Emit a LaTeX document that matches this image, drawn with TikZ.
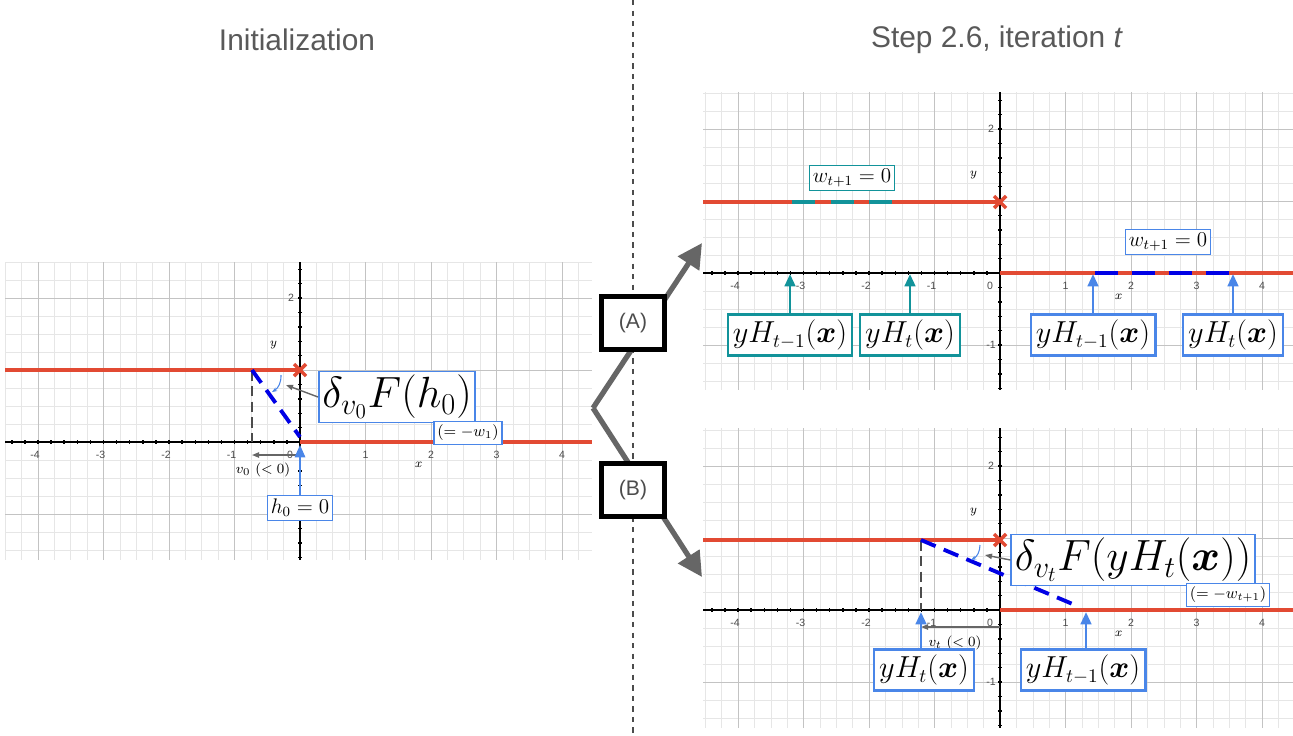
\documentclass[tikz,border=0pt]{standalone}
\usepackage{amsmath}
\usepackage{bm}
\usepackage{fontspec}
\newfontfamily\sansfont{Liberation Sans}
\usetikzlibrary{arrows.meta}

\definecolor{lossred}{RGB}{226,74,51}
\definecolor{boxblue}{RGB}{74,134,232}
\definecolor{teal}{RGB}{18,147,154}
\definecolor{gridgray}{RGB}{230,230,230}
\definecolor{majgray}{RGB}{195,195,195}

\tikzset{
    minorgrid/.style={gridgray, line width=0.3pt},
    majorgrid/.style={majgray, line width=0.5pt},
    axis/.style={black, line width=0.8pt},
    loss/.style={lossred, line width=2.2pt},
    lossmark/.style={lossred, line width=2pt},
    ticklabel/.style={font=\sansfont\fontsize{6}{6}\selectfont, text=black!70},
    bluebox/.style={draw=boxblue, line width=0.9pt, fill=white, inner sep=2pt},
    tealbox/.style={draw=teal, line width=1.3pt, fill=white, inner sep=3pt},
    bluebigbox/.style={draw=boxblue, line width=1.3pt, fill=white, inner sep=3pt},
    pointer/.style={-{Triangle[length=7pt,width=6pt]}, line width=1.5pt},
    casebox/.style={draw=black, line width=3pt, fill=white, minimum width=36pt, minimum height=30pt, font=\sansfont\fontsize{12}{12}\selectfont, text=black!70},
    branch/.style={black!60, line width=3pt},
}

% grid of one plot: x0 x1 y0 y1 originx originy
\newcommand{\plotgrid}[6]{%
    \begin{scope}
        \clip (#1,#3) rectangle (#2,#4);
        \fill[white] (#1,#3) rectangle (#2,#4);
        \foreach \k in {-30,...,30} {
            \draw[minorgrid] ({#5+\k*16.375},#3) -- ({#5+\k*16.375},#4);
            \draw[minorgrid] (#1,{#6+\k*18}) -- (#2,{#6+\k*18});
        }
        \foreach \k in {-6,...,6} {
            \draw[majorgrid] ({#5+\k*65.5},#3) -- ({#5+\k*65.5},#4);
            \draw[majorgrid] (#1,{#6+\k*72}) -- (#2,{#6+\k*72});
        }
        \draw[axis] (#1,#6) -- (#2,#6);
        \draw[axis] (#5,#3) -- (#5,#4);
        \foreach \k in {-30,...,30} {
            \draw[axis] ({#5+\k*13.1},#6-2) -- ({#5+\k*13.1},#6+2);
            \draw[axis] (#5-2,{#6+\k*14.4}) -- (#5+2,{#6+\k*14.4});
        }
        \foreach \n in {-4,...,-1}
            \node[ticklabel] at ({#5+\n*65.5-3},#6+13) {\n};
        \foreach \n in {1,...,4}
            \node[ticklabel] at ({#5+\n*65.5},#6+13) {\n};
        \node[ticklabel] at (#5-10,#6+13) {0};
        \node[ticklabel] at (#5-9,#6-144) {2};
        \node[ticklabel] at (#5-9,#6+72) {-1};
    \end{scope}
}
% red cross at a jump
\newcommand{\jumpmark}[1]{%
    \draw[lossmark] (#1) ++(-6,-6) -- ++(12,12);
    \draw[lossmark] (#1) ++(-6,6) -- ++(12,-12);
}

\begin{document}
\begin{tikzpicture}[x=0.02cm, y=-0.02cm]
    \useasboundingbox (0,0) rectangle (1293,735);

    % Titles and divider
    \node[font=\sansfont\fontsize{17}{17}\selectfont, text=black!65] (title left) at (297,40) {Initialization};
    \node[font=\sansfont\fontsize{17}{17}\selectfont, text=black!65] (title right) at (997,40) {Step 2.6, iteration \textit{t}};
    \draw[dashed, black!70, line width=0.6pt] (633,0) -- (633,735);

    % Left plot
    \plotgrid{5}{592}{262}{560}{300}{442}
    \node[font=\itshape\fontsize{7}{7}\selectfont] (ylabel left) at (273,345) {y};
    \node[font=\itshape\fontsize{7}{7}\selectfont] (xlabel left) at (418,465) {x};
    \coordinate (jump left) at (300,370);
    \coordinate (kink left) at (252,370);
    \coordinate (foot left) at (252,442);
    \draw[loss] (5,370) -- (jump left);
    \draw[loss] (300,442) -- (592,442);
    \jumpmark{jump left}
    \draw[black!70, line width=1.3pt, dash pattern=on 6pt off 3pt] (kink left) -- (foot left);
    \draw[blue!90!black, line width=2.2pt, dash pattern=on 9pt off 5pt] (kink left) -- (300,437);
    \coordinate (v0 start) at (300,455);
    \coordinate (v0 end) at (252,455);
    \draw[-{Triangle[length=4pt,width=3pt]}, black!60, line width=0.8pt] (v0 start) -- (v0 end);
    \node[font=\fontsize{8}{8}\selectfont] (v0 label) at (263,470) {$v_0\ (<0)$};
    \node[bluebox, font=\fontsize{12}{12}\selectfont] (h0) at (300,508) {$h_0=0$};
    \draw[pointer, boxblue, line width=0.8pt] (h0.north) -- (300,445);
    \node[bluebox, font=\fontsize{23}{23}\selectfont] (delta0) at (397,397) {$\delta_{v_0}F(h_0)$};
    \draw[-{Triangle[length=4pt,width=3pt]}, black!60, line width=0.8pt] (delta0.west) -- (286,385);
    \draw[boxblue, line width=0.6pt, -{Stealth[length=3pt]}] (281,375) to[bend left=30] (272,392);
    \node[bluebox, font=\fontsize{9}{9}\selectfont] (w1) at (468,433) {$(=-w_1)$};

    % Branch arrows and case boxes
    \coordinate (fork) at (593,408);
    \coordinate (tip a) at (702,243);
    \coordinate (tip b) at (702,577);
    \draw[branch, -{Triangle[length=14pt,width=14pt]}] (fork) -- (tip a);
    \draw[branch, -{Triangle[length=14pt,width=14pt]}] (fork) -- (tip b);
    \node[casebox] (case a) at (633,323) {(A)};
    \node[casebox] (case b) at (633,490) {(B)};

    % Top right plot
    \plotgrid{703}{1293}{92}{390}{1000}{273}
    \node[font=\itshape\fontsize{7}{7}\selectfont] (ylabel a) at (973,175) {y};
    \node[font=\itshape\fontsize{7}{7}\selectfont] (xlabel a) at (1118,297) {x};
    \coordinate (jump a) at (1000,202);
    \draw[loss] (703,202) -- (jump a);
    \draw[loss] (1000,273) -- (1293,273);
    \jumpmark{jump a}
    \draw[teal, line width=2.6pt, dash pattern=on 13pt off 9pt] (792,202) -- (897,202);
    \draw[blue!90!black, line width=2.6pt, dash pattern=on 13pt off 8pt] (1095,273) -- (1236,273);
    \node[tealbox, line width=0.9pt, inner sep=2pt, font=\fontsize{12}{12}\selectfont] (wa left) at (852,178) {$w_{t+1}=0$};
    \node[bluebox, font=\fontsize{12}{12}\selectfont] (wa right) at (1168,242) {$w_{t+1}=0$};
    \node[tealbox, font=\fontsize{16}{16}\selectfont] (ha prev) at (790,335) {$yH_{t-1}(\bm{x})$};
    \node[tealbox, font=\fontsize{16}{16}\selectfont] (ha cur) at (910,335) {$yH_{t}(\bm{x})$};
    \node[bluebigbox, font=\fontsize{16}{16}\selectfont] (hb prev) at (1093,335) {$yH_{t-1}(\bm{x})$};
    \node[bluebigbox, font=\fontsize{16}{16}\selectfont] (hb cur) at (1233,335) {$yH_{t}(\bm{x})$};
    \draw[pointer, teal] (ha prev.north) -- (790,274);
    \draw[pointer, teal] (ha cur.north) -- (910,274);
    \draw[pointer, boxblue] (hb prev.north) -- (1093,274);
    \draw[pointer, boxblue] (hb cur.north) -- (1233,274);

    % Bottom right plot
    \plotgrid{703}{1293}{428}{728}{1000}{610}
    \node[font=\itshape\fontsize{7}{7}\selectfont] (ylabel b) at (973,512) {y};
    \node[font=\itshape\fontsize{7}{7}\selectfont] (xlabel b) at (1118,634) {x};
    \coordinate (jump b) at (1000,540);
    \coordinate (kink b) at (921,540);
    \coordinate (foot b) at (921,610);
    \draw[loss] (703,540) -- (jump b);
    \draw[loss] (1000,610) -- (1293,610);
    \jumpmark{jump b}
    \draw[black!70, line width=1.3pt, dash pattern=on 6pt off 3pt] (kink b) -- (foot b);
    \draw[blue!90!black, line width=2.2pt, dash pattern=on 9pt off 5pt] (kink b) -- (1075,605);
    \draw[-{Triangle[length=4pt,width=3pt]}, black!60, line width=0.8pt] (1000,627) -- (921,627);
    \node[font=\fontsize{8}{8}\selectfont] (vt label) at (955,643) {$v_t\ (<0)$};
    \node[bluebox, font=\fontsize{23}{23}\selectfont] (deltat) at (1133,560) {$\delta_{v_t}F(yH_t(\bm{x}))$};
    \draw[-{Triangle[length=4pt,width=3pt]}, black!60, line width=0.8pt] (deltat.west) -- (985,555);
    \draw[boxblue, line width=0.6pt, -{Stealth[length=3pt]}] (980,545) to[bend left=30] (971,560);
    \node[bluebox, font=\fontsize{9}{9}\selectfont] (wt) at (1228,595) {$(=-w_{t+1})$};
    \node[bluebigbox, font=\fontsize{16}{16}\selectfont] (hc cur) at (924,670) {$yH_{t}(\bm{x})$};
    \node[bluebigbox, font=\fontsize{16}{16}\selectfont] (hc prev) at (1083,670) {$yH_{t-1}(\bm{x})$};
    \draw[pointer, boxblue] (hc cur.north) ++(-3,0) -- (921,612);
    \draw[pointer, boxblue] (hc prev.north) ++(3,0) -- (1086,612);
\end{tikzpicture}
\end{document}
